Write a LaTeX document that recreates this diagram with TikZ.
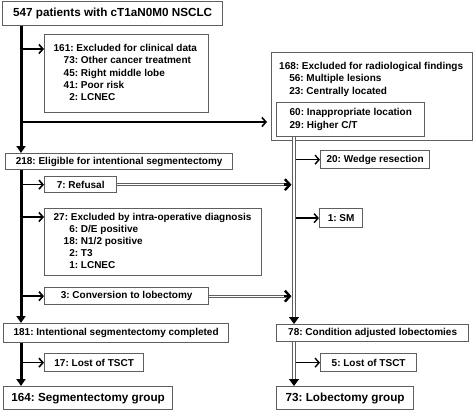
\documentclass[tikz,border=0pt]{standalone}
\usepackage{fontspec}
\setmainfont{Liberation Sans}
\usetikzlibrary{arrows.meta,calc}
\definecolor{boxgray}{RGB}{95,95,95}
\definecolor{dblgray}{RGB}{95,95,95}
\newcommand\subln[2]{\hspace*{10pt}\makebox[11.2pt][r]{#1}: #2}
\newcommand\boxlist[2]{\makebox[#1][l]{\begin{tabular}{@{}l@{}}#2\end{tabular}}}
\begin{document}
\begin{tikzpicture}[x=1pt,y=-1pt,
  txt/.style={font=\bfseries\fontsize{10}{12.2}\selectfont\frenchspacing},
  box/.style={txt, draw=boxgray, line width=1.3pt, fill=white, inner sep=0pt, anchor=north west, align=center},
  bigbox/.style={box, font=\bfseries\fontsize{11.7}{14}\selectfont\frenchspacing},
  listbox/.style={box, inner xsep=9pt},
  mainline/.style={line width=3pt, black},
  downarr/.style={-{Triangle[length=7pt,width=9pt]}},
  sidearr/.style={line width=1.6pt, black, -{Straight Barb[length=4pt,width=9pt]}},
  dblline/.style={draw=dblgray, line width=1.1pt, double=white, double distance=1.1pt},
  tipdown/.style={black, line width=1pt, -{Triangle[length=7pt,width=10pt]}},
  tipside/.style={black, line width=2.4pt, -{Straight Barb[length=5pt,width=11pt]}}
]
\useasboundingbox (0,0) rectangle (474,410);
\node[bigbox, minimum width=220pt, minimum height=24pt] (title) at (2,1) {547 patients with cT1aN0M0 NSCLC};
\node[listbox, minimum height=78pt] (b161) at (44,34) {\boxlist{146pt}{161: Excluded for clinical data\\ \subln{73}{Other cancer treatment}\\ \subln{45}{Right middle lobe}\\ \subln{41}{Poor risk}\\ \subln{2}{LCNEC}}};
\node[box, minimum width=201pt, minimum height=88pt] (r168) at (271,52) {};
\node[txt, anchor=north west, inner sep=0pt] (r168t) at (279,61) {\begin{tabular}{@{}l@{}}168: Excluded for radiological findings\\ \subln{56}{Multiple lesions}\\ \subln{23}{Centrally located}\end{tabular}};
\node[listbox, inner xsep=13pt, minimum height=34pt] (b60) at (276,102) {\boxlist{122pt}{60: Inappropriate location\\ 29: Higher C/T}};
\node[box, minimum width=109pt, minimum height=18pt] (b20) at (320,150) {20: Wedge resection};
\node[box, minimum width=227pt, minimum height=16pt] (b218) at (5,153) {218: Eligible for intentional segmentectomy};
\node[box, minimum width=72pt, minimum height=16pt] (b7) at (44,176) {7: Refusal};
\node[listbox, minimum height=67pt] (b27) at (44,208) {\boxlist{199pt}{27: Excluded by intra-operative diagnosis\\ \subln{6}{D/E positive}\\ \subln{18}{N1/2 positive}\\ \subln{2}{T3}\\ \subln{1}{LCNEC}}};
\node[box, minimum width=43pt, minimum height=19pt] (bsm) at (319,208) {1: SM};
\node[box, minimum width=164pt, minimum height=17pt] (b3) at (44,287) {3: Conversion to lobectomy};
\node[box, minimum width=225pt, minimum height=19pt] (b181) at (3,323) {181: Intentional segmentectomy completed};
\node[box, minimum width=192pt, minimum height=17pt] (b78) at (276,324) {78: Condition adjusted lobectomies};
\node[box, minimum width=99pt, minimum height=18pt] (b17) at (44,353) {17: Lost of TSCT};
\node[box, minimum width=96pt, minimum height=18pt] (b5) at (320,353) {5: Lost of TSCT};
\node[bigbox, minimum width=169pt, minimum height=23pt] (b164) at (3,386) {164: Segmentectomy group};
\node[bigbox, minimum width=137pt, minimum height=23pt] (b73) at (276,386) {73: Lobectomy group};
\coordinate (lx) at (21,0);
\coordinate (rx) at (294,0);
\coordinate (a161) at (21,49);
\coordinate (a168) at (21,122);
\coordinate (a27) at (21,217);
\draw[mainline, downarr] (title.south -| lx) -- (b218.north -| lx);
\draw[mainline, downarr] (b218.south -| lx) -- (b181.north -| lx);
\draw[mainline, downarr] (b181.south -| lx) -- (b164.north -| lx);
\draw[sidearr] (a161) -- (a161 -| b161.west);
\draw[sidearr, shorten >=4pt] (a168) -- (a168 -| r168.west);
\draw[sidearr] (b7.west -| lx) -- (b7.west);
\draw[sidearr] (a27) -- (a27 -| b27.west);
\draw[sidearr] (b3.west -| lx) -- (b3.west);
\draw[sidearr] (b17.west -| lx) -- (b17.west);
% right double trunk
\draw[dblline, shorten >=6pt] (b60.south -| rx) -- (b78.north -| rx);
\draw[tipdown] ($(b78.north -| rx)+(0,-7)$) -- (b78.north -| rx);
\draw[dblline, shorten >=6pt] (b78.south -| rx) -- (b73.north -| rx);
\draw[tipdown] ($(b73.north -| rx)+(0,-7)$) -- (b73.north -| rx);
% double arrows into trunk
\draw[dblline, shorten >=5pt] (b7.east) -- (b7.east -| rx);
\draw[tipside] ($(b7.east -| rx)+(-10,0)$) -- ($(b7.east -| rx)+(-2.5,0)$);
\draw[dblline, shorten >=5pt] (b3.east) -- (b3.east -| rx);
\draw[tipside] ($(b3.east -| rx)+(-10,0)$) -- ($(b3.east -| rx)+(-2.5,0)$);
\draw[sidearr, line width=1.4pt, shorten <=2pt] (b20.west -| rx) -- (b20.west);
\draw[sidearr, line width=1.4pt, shorten <=2pt] (bsm.west -| rx) -- (bsm.west);
\draw[sidearr, line width=1.4pt, shorten <=2pt] (b5.west -| rx) -- (b5.west);
\end{tikzpicture}
\end{document}
